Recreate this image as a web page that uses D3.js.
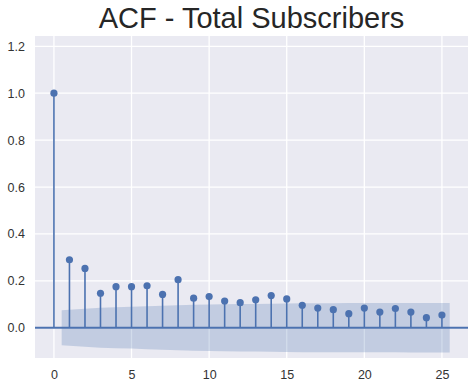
<!DOCTYPE html>
<html>
<head>
<meta charset="utf-8">
<script src="https://cdn.jsdelivr.net/npm/d3@7"></script>
<style>
  html, body { margin: 0; padding: 0; background: #ffffff; }
  svg { display: block; }
</style>
</head>
<body>
<div id="chart"></div>
<script>
// ---- data ----
const lags = [0,1,2,3,4,5,6,7,8,9,10,11,12,13,14,15,16,17,18,19,20,21,22,23,24,25];
const acfValues = [1.0,0.290,0.253,0.147,0.175,0.175,0.179,0.142,0.205,0.126,0.133,0.114,0.107,
                   0.119,0.137,0.123,0.096,0.084,0.077,0.060,0.084,0.067,0.082,0.067,0.043,0.054];
// confidence band half-width for lags 1..25
const bandLags = [1,2,3,4,5,6,7,8,9,10,11,12,13,14,15,16,17,18,19,20,21,22,23,24,25];
const bandHalf = [0.075,0.081,0.085,0.087,0.089,0.092,0.094,0.096,0.098,0.099,0.100,0.101,0.101,
                  0.102,0.103,0.104,0.104,0.104,0.105,0.105,0.105,0.105,0.106,0.106,0.106];
const xTicks = [0,5,10,15,20,25];
const yTicks = [0.0,0.2,0.4,0.6,0.8,1.0,1.2];
const titleText = "ACF - Total Subscribers";

// ---- layout ----
const W = 474, H = 387;
const plot = {left: 35, right: 468, top: 36, bottom: 358};
const blue = "#4C72B0";

const svg = d3.select("#chart").append("svg").attr("width", W).attr("height", H);

const x = d3.scaleLinear().domain([-1.22, 26.68]).range([plot.left, plot.right]);
const y = d3.scaleLinear().domain([-0.129, 1.244]).range([plot.bottom, plot.top]);

// background
svg.append("rect").attr("x", plot.left).attr("y", plot.top)
  .attr("width", plot.right - plot.left).attr("height", plot.bottom - plot.top)
  .attr("fill", "#EAEAF2");

// grid
const grid = svg.append("g");
grid.selectAll("line.gx").data(xTicks).join("line")
  .attr("x1", d => x(d)).attr("x2", d => x(d))
  .attr("y1", plot.top).attr("y2", plot.bottom)
  .attr("stroke", "#ffffff").attr("stroke-width", 1.3);
grid.selectAll("line.gy").data(yTicks).join("line")
  .attr("y1", d => y(d)).attr("y2", d => y(d))
  .attr("x1", plot.left).attr("x2", plot.right)
  .attr("stroke", "#ffffff").attr("stroke-width", 1.3);

// axes (labels only, no domain/ticks lines)
const xAxis = d3.axisBottom(x).tickValues(xTicks).tickSize(0).tickPadding(12).tickFormat(d3.format("d"));
const yAxis = d3.axisLeft(y).tickValues(yTicks).tickSize(0).tickPadding(10).tickFormat(d3.format(".1f"));
const gx = svg.append("g").attr("transform", `translate(0,${plot.bottom})`).call(xAxis);
const gy = svg.append("g").attr("transform", `translate(${plot.left},0)`).call(yAxis);
[gx, gy].forEach(g => {
  g.select(".domain").remove();
  g.selectAll("text").attr("fill", "#333333")
    .style("font-family", "'Liberation Sans', Arial, sans-serif").style("font-size", "12.5px");
});

// stems
const data = lags.map((l, i) => ({lag: l, v: acfValues[i]}));
svg.append("g").selectAll("line").data(data).join("line")
  .attr("x1", d => x(d.lag)).attr("x2", d => x(d.lag))
  .attr("y1", y(0)).attr("y2", d => y(d.v))
  .attr("stroke", blue).attr("stroke-width", 1.6);

// zero line
svg.append("line").attr("x1", plot.left).attr("x2", plot.right)
  .attr("y1", y(0)).attr("y2", y(0))
  .attr("stroke", blue).attr("stroke-width", 1.8);

// markers
svg.append("g").selectAll("circle").data(data).join("circle")
  .attr("cx", d => x(d.lag)).attr("cy", d => y(d.v)).attr("r", 3.6)
  .attr("fill", blue);

// confidence band (first/last lag extended by half a lag)
const band = bandLags.map((l, i) => ({
  lag: i === 0 ? l - 0.5 : (i === bandLags.length - 1 ? l + 0.5 : l),
  h: bandHalf[i]
}));
const area = d3.area().x(d => x(d.lag)).y0(d => y(-d.h)).y1(d => y(d.h));
svg.append("path").datum(band).attr("d", area)
  .attr("fill", blue).attr("fill-opacity", 0.25);

// title
svg.append("text").attr("x", (plot.left + plot.right) / 2).attr("y", 28)
  .attr("text-anchor", "middle").attr("fill", "#262626")
  .style("font-family", "'Liberation Sans', Arial, sans-serif").style("font-size", "29px")
  .text(titleText);
</script>
</body>
</html>
